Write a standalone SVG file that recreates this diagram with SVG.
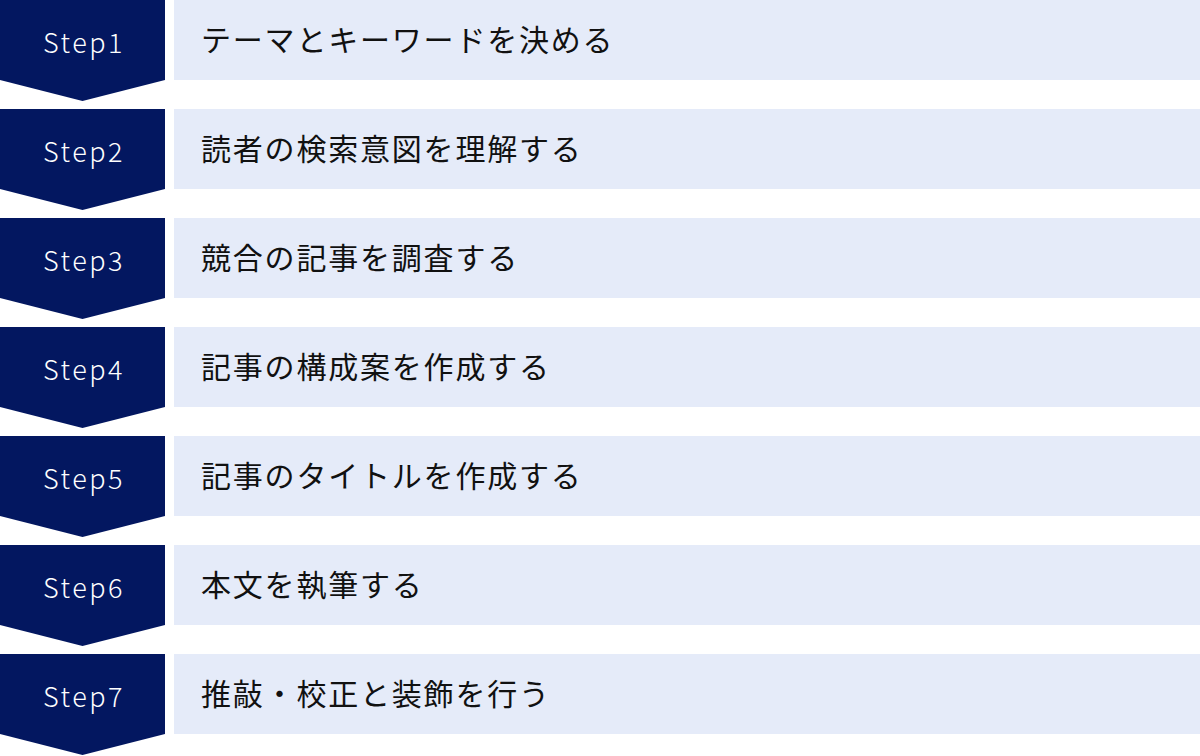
<svg xmlns="http://www.w3.org/2000/svg" width="1200" height="756" viewBox="0 0 1200 756">
<style>
.arrow{fill:#031760}
.box{fill:#E5EBF9}
.lbl{font-family:"Noto Sans CJK JP","Noto Sans",sans-serif;font-size:27px;font-weight:300;fill:#ffffff;text-anchor:middle;letter-spacing:2.5px}
.txt{font-family:"Noto Sans CJK JP",sans-serif;font-size:30px;fill:#111111;letter-spacing:1.8px}
</style>
<rect width="1200" height="756" fill="#ffffff"/>
<g id="step1" transform="translate(0,0)">
<path class="arrow" d="M0,0H165V80L82.5,101L0,80Z"/><rect class="box" x="174" y="0" width="1026" height="80"/>
<text class="lbl" x="84" y="53">Step1</text><text class="txt" x="201" y="51">テーマとキーワードを決める</text></g>
<g id="step2" transform="translate(0,109)">
<path class="arrow" d="M0,0H165V80L82.5,101L0,80Z"/><rect class="box" x="174" y="0" width="1026" height="80"/>
<text class="lbl" x="84" y="53">Step2</text><text class="txt" x="201" y="51">読者の検索意図を理解する</text></g>
<g id="step3" transform="translate(0,218)">
<path class="arrow" d="M0,0H165V80L82.5,101L0,80Z"/><rect class="box" x="174" y="0" width="1026" height="80"/>
<text class="lbl" x="84" y="53">Step3</text><text class="txt" x="201" y="51">競合の記事を調査する</text></g>
<g id="step4" transform="translate(0,327)">
<path class="arrow" d="M0,0H165V80L82.5,101L0,80Z"/><rect class="box" x="174" y="0" width="1026" height="80"/>
<text class="lbl" x="84" y="53">Step4</text><text class="txt" x="201" y="51">記事の構成案を作成する</text></g>
<g id="step5" transform="translate(0,436)">
<path class="arrow" d="M0,0H165V80L82.5,101L0,80Z"/><rect class="box" x="174" y="0" width="1026" height="80"/>
<text class="lbl" x="84" y="53">Step5</text><text class="txt" x="201" y="51">記事のタイトルを作成する</text></g>
<g id="step6" transform="translate(0,545)">
<path class="arrow" d="M0,0H165V80L82.5,101L0,80Z"/><rect class="box" x="174" y="0" width="1026" height="80"/>
<text class="lbl" x="84" y="53">Step6</text><text class="txt" x="201" y="51">本文を執筆する</text></g>
<g id="step7" transform="translate(0,654)">
<path class="arrow" d="M0,0H165V80L82.5,101L0,80Z"/><rect class="box" x="174" y="0" width="1026" height="80"/>
<text class="lbl" x="84" y="53">Step7</text><text class="txt" x="201" y="51">推敲・校正と装飾を行う</text></g>
<g id="connectors"/>
</svg>
